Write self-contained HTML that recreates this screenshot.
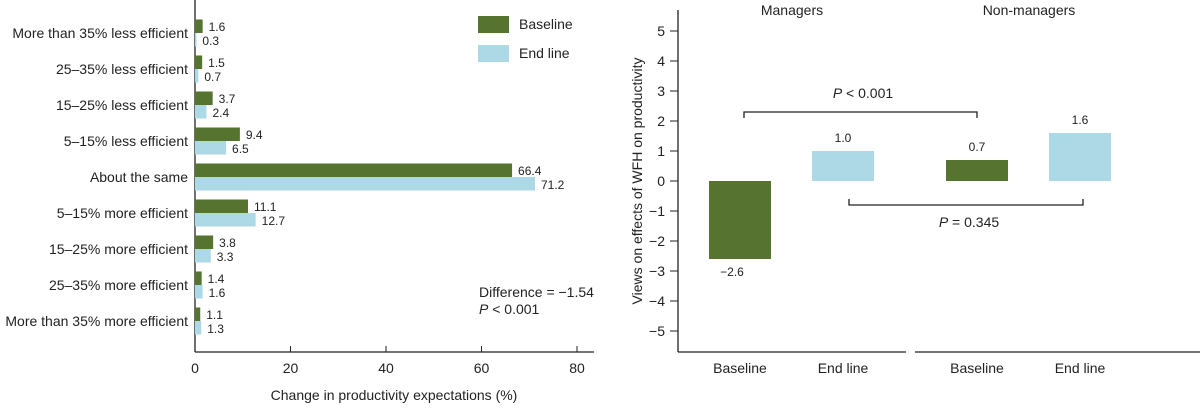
<!DOCTYPE html>
<html><head><meta charset="utf-8"><style>
body{margin:0;background:#fff;}
svg{font-family:"Liberation Sans",Arial,sans-serif;}
</style></head><body>
<svg width="1200" height="403" viewBox="0 0 1200 403" xmlns="http://www.w3.org/2000/svg">
<g id="left"></g>
<g id="right"></g>
</svg>
<script>
const categories=["More than 35% less efficient","25–35% less efficient","15–25% less efficient","5–15% less efficient","About the same","5–15% more efficient","15–25% more efficient","25–35% more efficient","More than 35% more efficient"];
const baselineVals=[1.6,1.5,3.7,9.4,66.4,11.1,3.8,1.4,1.1];
const endlineVals=[0.3,0.7,2.4,6.5,71.2,12.7,3.3,1.6,1.3];
const xTicks=[0,20,40,60,80];
const groups=["Managers","Non-managers"];
const rightBarLabels=["Baseline","End line","Baseline","End line"];
const rightVals=[-2.6,1.0,0.7,1.6];
const yTicks=[5,4,3,2,1,0,-1,-2,-3,-4,-5];
const GREEN="#56732f",BLUE="#add8e6";
const FS=14;
const NS="http://www.w3.org/2000/svg";
function el(tag,attrs,parent,text){const e=document.createElementNS(NS,tag);for(const k in attrs)e.setAttribute(k,attrs[k]);if(text!==undefined)e.textContent=text;parent.appendChild(e);return e;}
// left
const L=document.getElementById('left');
const xs=v=>195+v*4.775;
const gy=i=>33+i*36;
let a=el('line',{x1:195,y1:0,x2:195,y2:352,stroke:'#222','stroke-width':1.3},L);


a=el('line',{x1:195,y1:352,x2:594,y2:352,stroke:'#222','stroke-width':1.3},L);


xTicks.forEach(t=>{
 let tk=el('line',{x1:xs(t),y1:352,x2:xs(t),y2:346,stroke:'#222'},L);
 
 
 let tl=el('text',{x:xs(t),y:373,'text-anchor':'middle','font-size':FS,fill:'#222'},L,String(t));
 
 
});
categories.forEach((c,i)=>{
 const y=gy(i);
 let t=el('text',{x:188,y:y+5,'text-anchor':'end','font-size':FS,fill:'#222'},L,c);
 
 
 let b=el('rect',{x:195,y:y-13.5,width:xs(baselineVals[i])-195,height:13.5,fill:GREEN},L);
 
 
 let e=el('rect',{x:195,y:y,width:xs(endlineVals[i])-195,height:13.5,fill:BLUE},L);
 
 
 let v1=el('text',{x:xs(baselineVals[i])+6,y:y-2,'font-size':12,fill:'#222'},L,baselineVals[i].toFixed(1));
 
 
 let v2=el('text',{x:xs(endlineVals[i])+6,y:y+12,'font-size':12,fill:'#222'},L,endlineVals[i].toFixed(1));
 
 
});
let lg=el('rect',{x:478,y:16,width:31,height:17,fill:GREEN},L);


lg=el('rect',{x:478,y:45,width:31,height:17,fill:BLUE},L);


lg=el('text',{x:519,y:29,'font-size':FS,fill:'#222'},L,'Baseline');


lg=el('text',{x:519,y:58,'font-size':FS,fill:'#222'},L,'End line');


let an=el('text',{x:479,y:297,'font-size':FS,fill:'#222'},L,'Difference = −1.54');


an=el('text',{x:479,y:314,'font-size':FS,fill:'#222'},L);


el('tspan',{'font-style':'italic'},an,'P');el('tspan',{},an,' < 0.001');
an=el('text',{x:394,y:400,'text-anchor':'middle','font-size':FS,fill:'#222'},L,'Change in productivity expectations (%)');


// right
const R=document.getElementById('right');
const ys=v=>181-v*30;
const cx=[740,843,977,1080];
a=el('line',{x1:678,y1:10,x2:678,y2:352,stroke:'#222','stroke-width':1.3},R);


a=el('line',{x1:678,y1:352,x2:906,y2:352,stroke:'#222','stroke-width':1.3},R);


a=el('line',{x1:915,y1:352,x2:1200,y2:352,stroke:'#222','stroke-width':1.3},R);


yTicks.forEach(t=>{
 let tk=el('line',{x1:670,y1:ys(t),x2:678,y2:ys(t),stroke:'#222'},R);
 
 
 let tl=el('text',{x:665,y:ys(t)+5,'text-anchor':'end','font-size':FS,fill:'#222'},R,t<0?'−'+(-t):String(t));
 
 
});
rightVals.forEach((v,i)=>{
 const top=Math.min(ys(v),ys(0)),h=Math.abs(ys(v)-ys(0));
 let b=el('rect',{x:cx[i]-31,y:top,width:62,height:h,fill:i%2==0?GREEN:BLUE},R);
 
 
 let lab=el('text',{x:cx[i]+(v<0?-8:0),y:v<0?ys(v)+17:ys(v)-9,'text-anchor':'middle','font-size':12,fill:'#222'},R,v<0?'−'+(-v).toFixed(1):v.toFixed(1));
 
 
 let xl=el('text',{x:cx[i],y:373,'text-anchor':'middle','font-size':FS,fill:'#222'},R,rightBarLabels[i]);
 
 
});
let g=el('text',{x:792,y:15,'text-anchor':'middle','font-size':FS,fill:'#222'},R,groups[0]);


g=el('text',{x:1029,y:15,'text-anchor':'middle','font-size':FS,fill:'#222'},R,groups[1]);


let br=el('path',{d:'M744,118 V112 H977 V118',fill:'none',stroke:'#222','stroke-width':1.3},R);


br=el('text',{x:863,y:98,'text-anchor':'middle','font-size':FS,fill:'#222'},R);


el('tspan',{'font-style':'italic'},br,'P');el('tspan',{},br,' < 0.001');
br=el('path',{d:'M849,199 V205 H1083 V199',fill:'none',stroke:'#222','stroke-width':1.3},R);


br=el('text',{x:969,y:227,'text-anchor':'middle','font-size':FS,fill:'#222'},R);


el('tspan',{'font-style':'italic'},br,'P');el('tspan',{},br,' = 0.345');
let yt=el('text',{x:0,y:0,transform:'translate(642,181) rotate(-90)','text-anchor':'middle','font-size':FS,fill:'#222'},R,'Views on effects of WFH on productivity');


</script>
</body></html>
